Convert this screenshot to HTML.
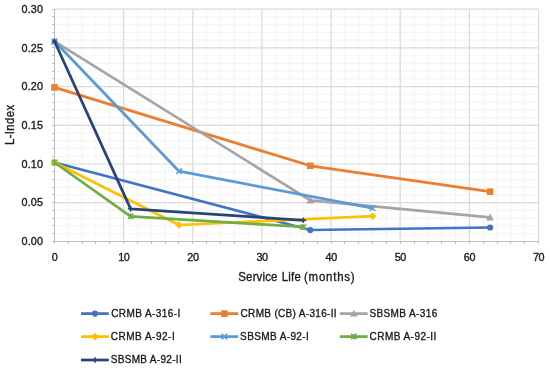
<!DOCTYPE html>
<html><head><meta charset="utf-8"><style>
html,body{margin:0;padding:0;background:#fff;}
svg{display:block;filter:blur(0.3px);}
text{font-family:"Liberation Sans", sans-serif;fill:#1a1a1a;stroke:#1a1a1a;stroke-width:0.35px;}
</style></head><body>
<svg width="550" height="371" viewBox="0 0 550 371">
<rect width="550" height="371" fill="#fff"/>
<line x1="68.33" y1="9.2" x2="68.33" y2="241.4" stroke="#f4f4f4"/>
<line x1="82.16" y1="9.2" x2="82.16" y2="241.4" stroke="#f4f4f4"/>
<line x1="95.99" y1="9.2" x2="95.99" y2="241.4" stroke="#f4f4f4"/>
<line x1="109.81" y1="9.2" x2="109.81" y2="241.4" stroke="#f4f4f4"/>
<line x1="137.47" y1="9.2" x2="137.47" y2="241.4" stroke="#f4f4f4"/>
<line x1="151.30" y1="9.2" x2="151.30" y2="241.4" stroke="#f4f4f4"/>
<line x1="165.13" y1="9.2" x2="165.13" y2="241.4" stroke="#f4f4f4"/>
<line x1="178.96" y1="9.2" x2="178.96" y2="241.4" stroke="#f4f4f4"/>
<line x1="206.61" y1="9.2" x2="206.61" y2="241.4" stroke="#f4f4f4"/>
<line x1="220.44" y1="9.2" x2="220.44" y2="241.4" stroke="#f4f4f4"/>
<line x1="234.27" y1="9.2" x2="234.27" y2="241.4" stroke="#f4f4f4"/>
<line x1="248.10" y1="9.2" x2="248.10" y2="241.4" stroke="#f4f4f4"/>
<line x1="275.76" y1="9.2" x2="275.76" y2="241.4" stroke="#f4f4f4"/>
<line x1="289.59" y1="9.2" x2="289.59" y2="241.4" stroke="#f4f4f4"/>
<line x1="303.41" y1="9.2" x2="303.41" y2="241.4" stroke="#f4f4f4"/>
<line x1="317.24" y1="9.2" x2="317.24" y2="241.4" stroke="#f4f4f4"/>
<line x1="344.90" y1="9.2" x2="344.90" y2="241.4" stroke="#f4f4f4"/>
<line x1="358.73" y1="9.2" x2="358.73" y2="241.4" stroke="#f4f4f4"/>
<line x1="372.56" y1="9.2" x2="372.56" y2="241.4" stroke="#f4f4f4"/>
<line x1="386.39" y1="9.2" x2="386.39" y2="241.4" stroke="#f4f4f4"/>
<line x1="414.04" y1="9.2" x2="414.04" y2="241.4" stroke="#f4f4f4"/>
<line x1="427.87" y1="9.2" x2="427.87" y2="241.4" stroke="#f4f4f4"/>
<line x1="441.70" y1="9.2" x2="441.70" y2="241.4" stroke="#f4f4f4"/>
<line x1="455.53" y1="9.2" x2="455.53" y2="241.4" stroke="#f4f4f4"/>
<line x1="483.19" y1="9.2" x2="483.19" y2="241.4" stroke="#f4f4f4"/>
<line x1="497.01" y1="9.2" x2="497.01" y2="241.4" stroke="#f4f4f4"/>
<line x1="510.84" y1="9.2" x2="510.84" y2="241.4" stroke="#f4f4f4"/>
<line x1="524.67" y1="9.2" x2="524.67" y2="241.4" stroke="#f4f4f4"/>
<line x1="54.5" y1="233.66" x2="538.5" y2="233.66" stroke="#f4f4f4"/>
<line x1="54.5" y1="225.92" x2="538.5" y2="225.92" stroke="#f4f4f4"/>
<line x1="54.5" y1="218.18" x2="538.5" y2="218.18" stroke="#f4f4f4"/>
<line x1="54.5" y1="210.44" x2="538.5" y2="210.44" stroke="#f4f4f4"/>
<line x1="54.5" y1="194.96" x2="538.5" y2="194.96" stroke="#f4f4f4"/>
<line x1="54.5" y1="187.22" x2="538.5" y2="187.22" stroke="#f4f4f4"/>
<line x1="54.5" y1="179.48" x2="538.5" y2="179.48" stroke="#f4f4f4"/>
<line x1="54.5" y1="171.74" x2="538.5" y2="171.74" stroke="#f4f4f4"/>
<line x1="54.5" y1="156.26" x2="538.5" y2="156.26" stroke="#f4f4f4"/>
<line x1="54.5" y1="148.52" x2="538.5" y2="148.52" stroke="#f4f4f4"/>
<line x1="54.5" y1="140.78" x2="538.5" y2="140.78" stroke="#f4f4f4"/>
<line x1="54.5" y1="133.04" x2="538.5" y2="133.04" stroke="#f4f4f4"/>
<line x1="54.5" y1="117.56" x2="538.5" y2="117.56" stroke="#f4f4f4"/>
<line x1="54.5" y1="109.82" x2="538.5" y2="109.82" stroke="#f4f4f4"/>
<line x1="54.5" y1="102.08" x2="538.5" y2="102.08" stroke="#f4f4f4"/>
<line x1="54.5" y1="94.34" x2="538.5" y2="94.34" stroke="#f4f4f4"/>
<line x1="54.5" y1="78.86" x2="538.5" y2="78.86" stroke="#f4f4f4"/>
<line x1="54.5" y1="71.12" x2="538.5" y2="71.12" stroke="#f4f4f4"/>
<line x1="54.5" y1="63.38" x2="538.5" y2="63.38" stroke="#f4f4f4"/>
<line x1="54.5" y1="55.64" x2="538.5" y2="55.64" stroke="#f4f4f4"/>
<line x1="54.5" y1="40.16" x2="538.5" y2="40.16" stroke="#f4f4f4"/>
<line x1="54.5" y1="32.42" x2="538.5" y2="32.42" stroke="#f4f4f4"/>
<line x1="54.5" y1="24.68" x2="538.5" y2="24.68" stroke="#f4f4f4"/>
<line x1="54.5" y1="16.94" x2="538.5" y2="16.94" stroke="#f4f4f4"/>
<line x1="123.64" y1="9.2" x2="123.64" y2="241.4" stroke="#d9d9d9" stroke-width="1.2"/>
<line x1="192.79" y1="9.2" x2="192.79" y2="241.4" stroke="#d9d9d9" stroke-width="1.2"/>
<line x1="261.93" y1="9.2" x2="261.93" y2="241.4" stroke="#d9d9d9" stroke-width="1.2"/>
<line x1="331.07" y1="9.2" x2="331.07" y2="241.4" stroke="#d9d9d9" stroke-width="1.2"/>
<line x1="400.21" y1="9.2" x2="400.21" y2="241.4" stroke="#d9d9d9" stroke-width="1.2"/>
<line x1="469.36" y1="9.2" x2="469.36" y2="241.4" stroke="#d9d9d9" stroke-width="1.2"/>
<line x1="538.50" y1="9.2" x2="538.50" y2="241.4" stroke="#d9d9d9" stroke-width="1.2"/>
<line x1="54.5" y1="202.70" x2="538.5" y2="202.70" stroke="#d9d9d9" stroke-width="1.2"/>
<line x1="54.5" y1="164.00" x2="538.5" y2="164.00" stroke="#d9d9d9" stroke-width="1.2"/>
<line x1="54.5" y1="125.30" x2="538.5" y2="125.30" stroke="#d9d9d9" stroke-width="1.2"/>
<line x1="54.5" y1="86.60" x2="538.5" y2="86.60" stroke="#d9d9d9" stroke-width="1.2"/>
<line x1="54.5" y1="47.90" x2="538.5" y2="47.90" stroke="#d9d9d9" stroke-width="1.2"/>
<line x1="54.5" y1="9.20" x2="538.5" y2="9.20" stroke="#d9d9d9" stroke-width="1.2"/>
<line x1="54.5" y1="9" x2="54.5" y2="241.5" stroke="#bfbfbf"/>
<line x1="54.5" y1="241.5" x2="538.5" y2="241.5" stroke="#bfbfbf"/>
<line x1="52" y1="241.5" x2="54.5" y2="241.5" stroke="#bfbfbf"/>
<line x1="52" y1="233.5" x2="54.5" y2="233.5" stroke="#bfbfbf"/>
<line x1="52" y1="225.5" x2="54.5" y2="225.5" stroke="#bfbfbf"/>
<line x1="52" y1="218.5" x2="54.5" y2="218.5" stroke="#bfbfbf"/>
<line x1="52" y1="210.5" x2="54.5" y2="210.5" stroke="#bfbfbf"/>
<line x1="52" y1="202.5" x2="54.5" y2="202.5" stroke="#bfbfbf"/>
<line x1="52" y1="194.5" x2="54.5" y2="194.5" stroke="#bfbfbf"/>
<line x1="52" y1="187.5" x2="54.5" y2="187.5" stroke="#bfbfbf"/>
<line x1="52" y1="179.5" x2="54.5" y2="179.5" stroke="#bfbfbf"/>
<line x1="52" y1="171.5" x2="54.5" y2="171.5" stroke="#bfbfbf"/>
<line x1="52" y1="164.5" x2="54.5" y2="164.5" stroke="#bfbfbf"/>
<line x1="52" y1="156.5" x2="54.5" y2="156.5" stroke="#bfbfbf"/>
<line x1="52" y1="148.5" x2="54.5" y2="148.5" stroke="#bfbfbf"/>
<line x1="52" y1="140.5" x2="54.5" y2="140.5" stroke="#bfbfbf"/>
<line x1="52" y1="133.5" x2="54.5" y2="133.5" stroke="#bfbfbf"/>
<line x1="52" y1="125.5" x2="54.5" y2="125.5" stroke="#bfbfbf"/>
<line x1="52" y1="117.5" x2="54.5" y2="117.5" stroke="#bfbfbf"/>
<line x1="52" y1="109.5" x2="54.5" y2="109.5" stroke="#bfbfbf"/>
<line x1="52" y1="102.5" x2="54.5" y2="102.5" stroke="#bfbfbf"/>
<line x1="52" y1="94.5" x2="54.5" y2="94.5" stroke="#bfbfbf"/>
<line x1="52" y1="86.5" x2="54.5" y2="86.5" stroke="#bfbfbf"/>
<line x1="52" y1="78.5" x2="54.5" y2="78.5" stroke="#bfbfbf"/>
<line x1="52" y1="71.5" x2="54.5" y2="71.5" stroke="#bfbfbf"/>
<line x1="52" y1="63.5" x2="54.5" y2="63.5" stroke="#bfbfbf"/>
<line x1="52" y1="55.5" x2="54.5" y2="55.5" stroke="#bfbfbf"/>
<line x1="52" y1="47.5" x2="54.5" y2="47.5" stroke="#bfbfbf"/>
<line x1="52" y1="40.5" x2="54.5" y2="40.5" stroke="#bfbfbf"/>
<line x1="52" y1="32.5" x2="54.5" y2="32.5" stroke="#bfbfbf"/>
<line x1="52" y1="24.5" x2="54.5" y2="24.5" stroke="#bfbfbf"/>
<line x1="52" y1="16.5" x2="54.5" y2="16.5" stroke="#bfbfbf"/>
<line x1="52" y1="9.5" x2="54.5" y2="9.5" stroke="#bfbfbf"/>
<line x1="54.5" y1="241.5" x2="54.5" y2="244" stroke="#bfbfbf"/>
<line x1="68.5" y1="241.5" x2="68.5" y2="244" stroke="#bfbfbf"/>
<line x1="82.5" y1="241.5" x2="82.5" y2="244" stroke="#bfbfbf"/>
<line x1="95.5" y1="241.5" x2="95.5" y2="244" stroke="#bfbfbf"/>
<line x1="109.5" y1="241.5" x2="109.5" y2="244" stroke="#bfbfbf"/>
<line x1="123.5" y1="241.5" x2="123.5" y2="244" stroke="#bfbfbf"/>
<line x1="137.5" y1="241.5" x2="137.5" y2="244" stroke="#bfbfbf"/>
<line x1="151.5" y1="241.5" x2="151.5" y2="244" stroke="#bfbfbf"/>
<line x1="165.5" y1="241.5" x2="165.5" y2="244" stroke="#bfbfbf"/>
<line x1="178.5" y1="241.5" x2="178.5" y2="244" stroke="#bfbfbf"/>
<line x1="192.5" y1="241.5" x2="192.5" y2="244" stroke="#bfbfbf"/>
<line x1="206.5" y1="241.5" x2="206.5" y2="244" stroke="#bfbfbf"/>
<line x1="220.5" y1="241.5" x2="220.5" y2="244" stroke="#bfbfbf"/>
<line x1="234.5" y1="241.5" x2="234.5" y2="244" stroke="#bfbfbf"/>
<line x1="248.5" y1="241.5" x2="248.5" y2="244" stroke="#bfbfbf"/>
<line x1="261.5" y1="241.5" x2="261.5" y2="244" stroke="#bfbfbf"/>
<line x1="275.5" y1="241.5" x2="275.5" y2="244" stroke="#bfbfbf"/>
<line x1="289.5" y1="241.5" x2="289.5" y2="244" stroke="#bfbfbf"/>
<line x1="303.5" y1="241.5" x2="303.5" y2="244" stroke="#bfbfbf"/>
<line x1="317.5" y1="241.5" x2="317.5" y2="244" stroke="#bfbfbf"/>
<line x1="331.5" y1="241.5" x2="331.5" y2="244" stroke="#bfbfbf"/>
<line x1="344.5" y1="241.5" x2="344.5" y2="244" stroke="#bfbfbf"/>
<line x1="358.5" y1="241.5" x2="358.5" y2="244" stroke="#bfbfbf"/>
<line x1="372.5" y1="241.5" x2="372.5" y2="244" stroke="#bfbfbf"/>
<line x1="386.5" y1="241.5" x2="386.5" y2="244" stroke="#bfbfbf"/>
<line x1="400.5" y1="241.5" x2="400.5" y2="244" stroke="#bfbfbf"/>
<line x1="414.5" y1="241.5" x2="414.5" y2="244" stroke="#bfbfbf"/>
<line x1="427.5" y1="241.5" x2="427.5" y2="244" stroke="#bfbfbf"/>
<line x1="441.5" y1="241.5" x2="441.5" y2="244" stroke="#bfbfbf"/>
<line x1="455.5" y1="241.5" x2="455.5" y2="244" stroke="#bfbfbf"/>
<line x1="469.5" y1="241.5" x2="469.5" y2="244" stroke="#bfbfbf"/>
<line x1="483.5" y1="241.5" x2="483.5" y2="244" stroke="#bfbfbf"/>
<line x1="497.5" y1="241.5" x2="497.5" y2="244" stroke="#bfbfbf"/>
<line x1="510.5" y1="241.5" x2="510.5" y2="244" stroke="#bfbfbf"/>
<line x1="524.5" y1="241.5" x2="524.5" y2="244" stroke="#bfbfbf"/>
<line x1="538.5" y1="241.5" x2="538.5" y2="244" stroke="#bfbfbf"/>
<text transform="translate(42.90,245.10) scale(1.0,1)" text-anchor="end" textLength="21.30" lengthAdjust="spacing" style="font-size:10.8px">0.00</text>
<text transform="translate(42.90,206.40) scale(1.0,1)" text-anchor="end" textLength="21.30" lengthAdjust="spacing" style="font-size:10.8px">0.05</text>
<text transform="translate(42.90,167.70) scale(1.0,1)" text-anchor="end" textLength="21.30" lengthAdjust="spacing" style="font-size:10.8px">0.10</text>
<text transform="translate(42.90,129.00) scale(1.0,1)" text-anchor="end" textLength="21.30" lengthAdjust="spacing" style="font-size:10.8px">0.15</text>
<text transform="translate(42.90,90.30) scale(1.0,1)" text-anchor="end" textLength="21.30" lengthAdjust="spacing" style="font-size:10.8px">0.20</text>
<text transform="translate(42.90,51.60) scale(1.0,1)" text-anchor="end" textLength="21.30" lengthAdjust="spacing" style="font-size:10.8px">0.25</text>
<text transform="translate(42.90,12.90) scale(1.0,1)" text-anchor="end" textLength="21.30" lengthAdjust="spacing" style="font-size:10.8px">0.30</text>
<text transform="translate(54.80,261.30) scale(1.0,1)" text-anchor="middle" textLength="5.80" lengthAdjust="spacing" style="font-size:10.8px">0</text>
<text transform="translate(123.94,261.30) scale(1.0,1)" text-anchor="middle" textLength="11.60" lengthAdjust="spacing" style="font-size:10.8px">10</text>
<text transform="translate(193.09,261.30) scale(1.0,1)" text-anchor="middle" textLength="11.60" lengthAdjust="spacing" style="font-size:10.8px">20</text>
<text transform="translate(262.23,261.30) scale(1.0,1)" text-anchor="middle" textLength="11.60" lengthAdjust="spacing" style="font-size:10.8px">30</text>
<text transform="translate(331.37,261.30) scale(1.0,1)" text-anchor="middle" textLength="11.60" lengthAdjust="spacing" style="font-size:10.8px">40</text>
<text transform="translate(400.51,261.30) scale(1.0,1)" text-anchor="middle" textLength="11.60" lengthAdjust="spacing" style="font-size:10.8px">50</text>
<text transform="translate(469.66,261.30) scale(1.0,1)" text-anchor="middle" textLength="11.60" lengthAdjust="spacing" style="font-size:10.8px">60</text>
<text transform="translate(538.80,261.30) scale(1.0,1)" text-anchor="middle" textLength="11.60" lengthAdjust="spacing" style="font-size:10.8px">70</text>
<text transform="translate(238.30,281.30) scale(0.93,1)" textLength="42.15" lengthAdjust="spacing" style="font-size:12.3px">Service</text>
<text transform="translate(281.70,281.30) scale(0.93,1)" textLength="20.54" lengthAdjust="spacing" style="font-size:12.3px">Life</text>
<text transform="translate(304.00,281.30) scale(0.93,1)" textLength="54.41" lengthAdjust="spacing" style="font-size:12.3px">(months)</text>
<g transform="translate(14.0,124.9) rotate(-90)"><text transform="translate(0.00,0.00) scale(0.93,1)" text-anchor="middle" textLength="43.23" lengthAdjust="spacing" style="font-size:12.3px">L-Index</text></g>
<polyline points="54.5,162.5 310.3,230.0 490.1,227.5" fill="none" stroke="#4472c4" stroke-width="2.75" stroke-linejoin="round" stroke-linecap="round"/>
<circle cx="54.5" cy="162.5" r="3.10" fill="#4472c4"/>
<circle cx="310.3" cy="230.0" r="3.10" fill="#4472c4"/>
<circle cx="490.1" cy="227.5" r="3.10" fill="#4472c4"/>
<polyline points="54.5,87.4 310.3,165.8 490.1,191.7" fill="none" stroke="#ed7d31" stroke-width="2.75" stroke-linejoin="round" stroke-linecap="round"/>
<rect x="51.2" y="84.1" width="6.6" height="6.6" fill="#ed7d31"/>
<rect x="307.0" y="162.5" width="6.6" height="6.6" fill="#ed7d31"/>
<rect x="486.8" y="188.4" width="6.6" height="6.6" fill="#ed7d31"/>
<polyline points="54.5,41.3 310.3,200.4 490.1,217.4" fill="none" stroke="#a5a5a5" stroke-width="2.75" stroke-linejoin="round" stroke-linecap="round"/>
<polygon points="54.5,37.5 58.3,44.4 50.7,44.4" fill="#a5a5a5"/>
<polygon points="310.3,196.6 314.1,203.4 306.5,203.4" fill="#a5a5a5"/>
<polygon points="490.1,213.6 493.9,220.4 486.3,220.4" fill="#a5a5a5"/>
<polyline points="54.5,162.5 179.0,225.0 372.6,216.2" fill="none" stroke="#ffc000" stroke-width="2.75" stroke-linejoin="round" stroke-linecap="round"/>
<polygon points="54.5,158.7 58.3,162.5 54.5,166.3 50.7,162.5" fill="#ffc000"/>
<polygon points="179.0,221.2 182.8,225.0 179.0,228.8 175.2,225.0" fill="#ffc000"/>
<polygon points="372.6,212.4 376.4,216.2 372.6,220.0 368.8,216.2" fill="#ffc000"/>
<polyline points="54.5,41.3 179.0,171.2 372.6,208.2" fill="none" stroke="#5b9bd5" stroke-width="2.75" stroke-linejoin="round" stroke-linecap="round"/>
<path d="M51.7,38.5L57.3,44.1M57.3,38.5L51.7,44.1" stroke="#5b9bd5" stroke-width="1.5" fill="none"/>
<path d="M176.2,168.4L181.8,174.0M181.8,168.4L176.2,174.0" stroke="#5b9bd5" stroke-width="1.5" fill="none"/>
<path d="M369.8,205.4L375.4,211.0M375.4,205.4L369.8,211.0" stroke="#5b9bd5" stroke-width="1.5" fill="none"/>
<polyline points="54.5,162.5 130.6,216.3 303.4,226.9" fill="none" stroke="#70ad47" stroke-width="2.75" stroke-linejoin="round" stroke-linecap="round"/>
<path d="M51.8,159.8L57.2,165.2M57.2,159.8L51.8,165.2M54.5,159.8L54.5,165.2" stroke="#70ad47" stroke-width="1.5" fill="none"/>
<path d="M127.9,213.6L133.3,219.0M133.3,213.6L127.9,219.0M130.6,213.6L130.6,219.0" stroke="#70ad47" stroke-width="1.5" fill="none"/>
<path d="M300.7,224.2L306.1,229.6M306.1,224.2L300.7,229.6M303.4,224.2L303.4,229.6" stroke="#70ad47" stroke-width="1.5" fill="none"/>
<polyline points="54.5,41.3 130.6,208.9 303.4,220.3" fill="none" stroke="#264478" stroke-width="2.75" stroke-linejoin="round" stroke-linecap="round"/>
<path d="M51.7,41.3L57.3,41.3M54.5,38.5L54.5,44.1" stroke="#264478" stroke-width="1.5" fill="none"/>
<path d="M127.8,208.9L133.4,208.9M130.6,206.1L130.6,211.7" stroke="#264478" stroke-width="1.5" fill="none"/>
<path d="M300.6,220.3L306.2,220.3M303.4,217.5L303.4,223.1" stroke="#264478" stroke-width="1.5" fill="none"/>
<line x1="81.0" y1="313.6" x2="108.8" y2="313.6" stroke="#4472c4" stroke-width="2.75"/>
<circle cx="95.0" cy="313.6" r="3.10" fill="#4472c4"/>
<text transform="translate(111.20,317.05) scale(0.93,1)" textLength="74.30" lengthAdjust="spacing" style="font-size:10.8px">CRMB A-316-I</text>
<line x1="210.4" y1="313.6" x2="238.20000000000002" y2="313.6" stroke="#ed7d31" stroke-width="2.75"/>
<rect x="221.1" y="310.3" width="6.6" height="6.6" fill="#ed7d31"/>
<text transform="translate(240.60,317.05) scale(0.93,1)" textLength="103.23" lengthAdjust="spacing" style="font-size:10.8px">CRMB (CB) A-316-II</text>
<line x1="339.8" y1="313.6" x2="367.6" y2="313.6" stroke="#a5a5a5" stroke-width="2.75"/>
<polygon points="353.8,309.8 357.6,316.6 350.0,316.6" fill="#a5a5a5"/>
<text transform="translate(369.40,317.05) scale(0.93,1)" textLength="73.01" lengthAdjust="spacing" style="font-size:10.8px">SBSMB A-316</text>
<line x1="81.0" y1="336.6" x2="108.8" y2="336.6" stroke="#ffc000" stroke-width="2.75"/>
<polygon points="95.0,332.8 98.8,336.6 95.0,340.4 91.2,336.6" fill="#ffc000"/>
<text transform="translate(110.70,340.05) scale(0.93,1)" textLength="68.82" lengthAdjust="spacing" style="font-size:10.8px">CRMB A-92-I</text>
<line x1="210.4" y1="336.6" x2="238.20000000000002" y2="336.6" stroke="#5b9bd5" stroke-width="2.75"/>
<path d="M221.6,333.8L227.2,339.4M227.2,333.8L221.6,339.4" stroke="#5b9bd5" stroke-width="1.5" fill="none"/>
<text transform="translate(240.10,340.05) scale(0.93,1)" textLength="73.87" lengthAdjust="spacing" style="font-size:10.8px">SBSMB A-92-I</text>
<line x1="339.8" y1="336.6" x2="367.6" y2="336.6" stroke="#70ad47" stroke-width="2.75"/>
<path d="M351.1,333.9L356.5,339.3M356.5,333.9L351.1,339.3M353.8,333.9L353.8,339.3" stroke="#70ad47" stroke-width="1.5" fill="none"/>
<text transform="translate(369.60,340.05) scale(0.93,1)" textLength="71.61" lengthAdjust="spacing" style="font-size:10.8px">CRMB A-92-II</text>
<line x1="81.0" y1="360.0" x2="108.8" y2="360.0" stroke="#264478" stroke-width="2.75"/>
<path d="M92.2,360.0L97.8,360.0M95.0,357.2L95.0,362.8" stroke="#264478" stroke-width="1.5" fill="none"/>
<text transform="translate(110.70,363.45) scale(0.93,1)" textLength="76.34" lengthAdjust="spacing" style="font-size:10.8px">SBSMB A-92-II</text>
</svg>
</body></html>
